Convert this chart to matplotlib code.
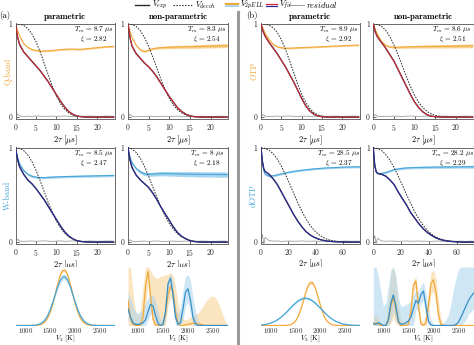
import numpy as np
import matplotlib
matplotlib.use("Agg")
import matplotlib.pyplot as plt
from matplotlib.lines import Line2D

plt.rcParams['mathtext.fontset'] = 'cm'
plt.rcParams['font.family'] = ['cmr10', 'DejaVu Serif']
plt.rcParams['axes.formatter.use_mathtext'] = True
plt.rcParams['axes.unicode_minus'] = False

# ---------------- data ----------------
t_a = [0, 0.5, 1, 2, 3, 4, 5, 6, 7, 8, 9, 10, 11, 12, 13, 14, 15, 16, 17, 18, 19, 20, 21, 22, 23, 24]
t_b = [0, 1, 2, 3, 6, 9, 12, 15, 18, 21, 24, 27, 30, 33, 36, 39, 42, 45, 48, 51, 54, 57, 60, 63, 66, 69, 72]

# Q-band parametric
decoh_q_par = [1.0, 1.0, 0.998, 0.984, 0.951, 0.894, 0.81, 0.704, 0.58, 0.454, 0.333, 0.228, 0.144, 0.084, 0.045, 0.022, 0.01, 0.004, 0.001, 0, 0, 0, 0, 0, 0, 0]
fit_q_par = [1.0, 0.86, 0.78, 0.70, 0.65, 0.60, 0.55, 0.50, 0.44, 0.38, 0.31, 0.24, 0.17, 0.11, 0.06, 0.03, 0.012, 0.005, 0.002, 0, 0, 0, 0, 0, 0, 0]
ell_q_par = [1.0, 0.93, 0.87, 0.79, 0.75, 0.725, 0.715, 0.71, 0.71, 0.712, 0.715, 0.72, 0.724, 0.728, 0.73, 0.73, 0.728, 0.728, 0.732, 0.737, 0.742, 0.746, 0.75, 0.754, 0.757, 0.76]
err_q_par = 0.008
res_q_par = [0.0, 0.035, 0.012, 0.006, 0.01, 0.008, 0.012, 0.01, 0.007, 0.009, 0.011, 0.008, 0.01, 0.012, 0.009, 0.007, 0.008, 0.01, 0.009, 0.011, 0.01, 0.008, 0.009, 0.011, 0.01, 0.009]

# Q-band non-parametric
decoh_q_np = [1.0, 1.0, 0.995, 0.973, 0.927, 0.855, 0.759, 0.645, 0.523, 0.402, 0.293, 0.201, 0.129, 0.078, 0.044, 0.023, 0.011, 0.005, 0.002, 0.001, 0, 0, 0, 0, 0, 0]
fit_q_np = [1.0, 0.85, 0.76, 0.68, 0.63, 0.58, 0.54, 0.49, 0.43, 0.36, 0.29, 0.22, 0.16, 0.10, 0.06, 0.03, 0.013, 0.005, 0.002, 0, 0, 0, 0, 0, 0, 0]
ell_q_np = [1.0, 0.92, 0.85, 0.77, 0.72, 0.705, 0.72, 0.735, 0.742, 0.746, 0.748, 0.75, 0.752, 0.754, 0.755, 0.755, 0.756, 0.757, 0.758, 0.76, 0.762, 0.763, 0.764, 0.765, 0.766, 0.767]
err_q_np = [0, 0.004, 0.006, 0.008, 0.01, 0.01, 0.01, 0.011, 0.012, 0.013, 0.014, 0.015, 0.015, 0.016, 0.016, 0.017, 0.017, 0.018, 0.018, 0.019, 0.019, 0.02, 0.02, 0.02, 0.021, 0.021]
res_q_np = [0.0, 0.03, 0.01, 0.004, 0.008, 0.006, 0.01, 0.009, 0.006, 0.008, 0.01, 0.007, 0.009, 0.011, 0.008, 0.006, 0.007, 0.009, 0.008, 0.01, 0.009, 0.007, 0.008, 0.01, 0.009, 0.008]

# W-band parametric
decoh_w_par = [1.0, 1.0, 0.995, 0.972, 0.926, 0.856, 0.764, 0.655, 0.539, 0.423, 0.316, 0.224, 0.151, 0.096, 0.058, 0.032, 0.017, 0.009, 0.004, 0.002, 0.001, 0, 0, 0, 0, 0]
fit_w_par = [1.0, 0.88, 0.80, 0.72, 0.66, 0.62, 0.57, 0.51, 0.45, 0.38, 0.31, 0.24, 0.17, 0.11, 0.065, 0.035, 0.015, 0.006, 0.002, 0, 0, 0, 0, 0, 0, 0]
ell_w_par = [1.0, 0.90, 0.83, 0.76, 0.72, 0.70, 0.69, 0.685, 0.685, 0.688, 0.69, 0.692, 0.694, 0.696, 0.697, 0.698, 0.699, 0.70, 0.701, 0.702, 0.703, 0.704, 0.705, 0.706, 0.707, 0.708]
err_w_par = 0.012
res_w_par = [0.0, 0.03, 0.012, 0.008, 0.01, 0.012, 0.009, 0.011, 0.013, 0.01, 0.008, 0.011, 0.012, 0.009, 0.01, 0.012, 0.011, 0.009, 0.01, 0.012, 0.011, 0.009, 0.01, 0.011, 0.012, 0.01]

# W-band non-parametric
decoh_w_np = [1.0, 0.997, 0.989, 0.952, 0.889, 0.802, 0.698, 0.586, 0.474, 0.368, 0.274, 0.197, 0.135, 0.089, 0.056, 0.034, 0.02, 0.011, 0.006, 0.003, 0.001, 0.001, 0, 0, 0, 0]
fit_w_np = [1.0, 0.87, 0.79, 0.71, 0.66, 0.62, 0.58, 0.52, 0.45, 0.37, 0.30, 0.23, 0.16, 0.10, 0.06, 0.035, 0.015, 0.006, 0.002, 0, 0, 0, 0, 0, 0, 0]
ell_w_np = [1.0, 0.90, 0.84, 0.78, 0.745, 0.725, 0.72, 0.722, 0.725, 0.727, 0.727, 0.726, 0.725, 0.724, 0.723, 0.722, 0.722, 0.721, 0.72, 0.72, 0.719, 0.719, 0.718, 0.718, 0.718, 0.717]
err_w_np = [0, 0.006, 0.01, 0.014, 0.017, 0.019, 0.02, 0.021, 0.022, 0.023, 0.024, 0.025, 0.025, 0.026, 0.026, 0.027, 0.027, 0.027, 0.028, 0.028, 0.028, 0.028, 0.029, 0.029, 0.029, 0.029]
res_w_np = [0.0, 0.025, 0.01, 0.006, 0.009, 0.011, 0.008, 0.01, 0.012, 0.009, 0.007, 0.01, 0.011, 0.008, 0.009, 0.011, 0.01, 0.008, 0.009, 0.011, 0.01, 0.008, 0.009, 0.01, 0.011, 0.009]

# OTP parametric
decoh_otp_par = [1.0, 1.0, 0.998, 0.987, 0.959, 0.908, 0.831, 0.729, 0.609, 0.481, 0.356, 0.245, 0.156, 0.091, 0.049, 0.023, 0.01, 0.004, 0.001, 0, 0, 0, 0, 0, 0, 0]
fit_otp_par = [1.0, 0.92, 0.87, 0.80, 0.74, 0.68, 0.61, 0.54, 0.46, 0.38, 0.29, 0.20, 0.12, 0.065, 0.03, 0.012, 0.004, 0.001, 0, 0, 0, 0, 0, 0, 0, 0]
ell_otp_par = [1.0, 0.95, 0.90, 0.83, 0.78, 0.755, 0.745, 0.74, 0.74, 0.742, 0.744, 0.746, 0.748, 0.75, 0.752, 0.754, 0.756, 0.758, 0.76, 0.762, 0.764, 0.766, 0.768, 0.77, 0.772, 0.774]
err_otp_par = 0.008
res_otp_par = [0.0, 0.03, 0.01, 0.005, 0.009, 0.011, 0.008, 0.01, 0.012, 0.009, 0.007, 0.01, 0.011, 0.008, 0.009, 0.011, 0.01, 0.008, 0.009, 0.011, 0.01, 0.008, 0.009, 0.01, 0.011, 0.009]

# OTP non-parametric
decoh_otp_np = [1.0, 1.0, 0.996, 0.975, 0.931, 0.864, 0.774, 0.667, 0.551, 0.434, 0.326, 0.232, 0.156, 0.1, 0.06, 0.034, 0.018, 0.009, 0.004, 0.002, 0.001, 0, 0, 0, 0, 0]
fit_otp_np = [1.0, 0.91, 0.86, 0.80, 0.74, 0.67, 0.60, 0.51, 0.42, 0.33, 0.24, 0.16, 0.10, 0.055, 0.025, 0.01, 0.004, 0.001, 0, 0, 0, 0, 0, 0, 0, 0]
ell_otp_np = [1.0, 0.94, 0.89, 0.81, 0.77, 0.755, 0.75, 0.75, 0.752, 0.754, 0.755, 0.756, 0.757, 0.757, 0.758, 0.758, 0.759, 0.76, 0.76, 0.761, 0.762, 0.762, 0.763, 0.764, 0.764, 0.765]
err_otp_np = [0, 0.004, 0.006, 0.008, 0.009, 0.01, 0.011, 0.012, 0.013, 0.014, 0.014, 0.015, 0.015, 0.016, 0.016, 0.017, 0.017, 0.017, 0.018, 0.018, 0.018, 0.019, 0.019, 0.019, 0.02, 0.02]
res_otp_np = [0.0, 0.028, 0.009, 0.006, 0.01, 0.008, 0.011, 0.009, 0.007, 0.01, 0.012, 0.009, 0.008, 0.01, 0.011, 0.009, 0.008, 0.01, 0.011, 0.009, 0.01, 0.008, 0.009, 0.011, 0.01, 0.009]

# dOTP parametric
decoh_dotp_par = [1.0, 1.0, 0.999, 0.995, 0.975, 0.937, 0.879, 0.804, 0.714, 0.616, 0.514, 0.415, 0.323, 0.243, 0.176, 0.122, 0.082, 0.052, 0.032, 0.019, 0.011, 0.006, 0.003, 0.001, 0.001, 0, 0]
fit_dotp_par = [1.0, 0.86, 0.78, 0.75, 0.72, 0.67, 0.61, 0.53, 0.45, 0.37, 0.29, 0.22, 0.16, 0.11, 0.075, 0.05, 0.032, 0.02, 0.012, 0.007, 0.004, 0.002, 0.001, 0, 0, 0, 0]
ell_dotp_par = [1.0, 0.85, 0.76, 0.72, 0.70, 0.705, 0.715, 0.725, 0.735, 0.745, 0.752, 0.758, 0.764, 0.769, 0.774, 0.778, 0.782, 0.785, 0.788, 0.79, 0.792, 0.794, 0.796, 0.797, 0.798, 0.799, 0.80]
err_dotp_par = 0.01
res_dotp_par = [0.0, 0.08, -0.02, 0.05, 0.015, 0.01, 0.012, 0.008, 0.01, 0.011, 0.009, 0.01, 0.012, 0.009, 0.01, 0.011, 0.008, 0.01, 0.009, 0.011, 0.01, 0.008, 0.01, 0.011, 0.009, 0.01, 0.01]

# dOTP non-parametric
decoh_dotp_np = [1.0, 1.0, 0.998, 0.994, 0.972, 0.929, 0.868, 0.79, 0.699, 0.601, 0.501, 0.405, 0.316, 0.239, 0.174, 0.122, 0.083, 0.054, 0.034, 0.021, 0.012, 0.007, 0.004, 0.002, 0.001, 0, 0]
fit_dotp_np = [1.0, 0.82, 0.75, 0.73, 0.72, 0.70, 0.66, 0.61, 0.53, 0.46, 0.39, 0.31, 0.25, 0.19, 0.14, 0.10, 0.07, 0.045, 0.028, 0.017, 0.01, 0.005, 0.003, 0.001, 0, 0, 0]
ell_dotp_np = [1.0, 0.82, 0.75, 0.73, 0.73, 0.74, 0.755, 0.77, 0.778, 0.784, 0.788, 0.79, 0.792, 0.793, 0.794, 0.795, 0.796, 0.797, 0.797, 0.798, 0.798, 0.799, 0.799, 0.8, 0.8, 0.8, 0.8]
err_dotp_np = [0, 0.005, 0.007, 0.008, 0.009, 0.01, 0.01, 0.011, 0.011, 0.012, 0.012, 0.012, 0.012, 0.013, 0.013, 0.013, 0.013, 0.013, 0.014, 0.014, 0.014, 0.014, 0.014, 0.014, 0.015, 0.015, 0.015]
res_dotp_np = [0.0, 0.07, -0.015, 0.04, 0.012, 0.009, 0.011, 0.01, 0.008, 0.01, 0.012, 0.009, 0.01, 0.011, 0.009, 0.01, 0.008, 0.011, 0.01, 0.009, 0.01, 0.011, 0.009, 0.01, 0.008, 0.01, 0.009]

# ---- V3 distributions ----
v_grid = [800, 850, 900, 950, 1000, 1050, 1100, 1150, 1200, 1250, 1300, 1350, 1400, 1450, 1500, 1550, 1600, 1650, 1700, 1750,
          1800, 1850, 1900, 1950, 2000, 2050, 2100, 2150, 2200, 2250, 2300, 2350, 2400, 2450, 2500, 2550, 2600, 2650, 2700, 2750, 2800]

p_q_par = [0, 0, 0, 0, 0, 0, 0.0002, 0.0007, 0.002, 0.006, 0.015, 0.034, 0.071, 0.135, 0.237, 0.378, 0.551, 0.733, 0.889, 0.984,
           0.993, 0.914, 0.768, 0.588, 0.411, 0.262, 0.152, 0.081, 0.039, 0.017, 0.007, 0.003, 0.001, 0, 0, 0, 0, 0, 0, 0, 0]
rel_q_par = 0.03
p_w_par = [0, 0, 0, 0, 0, 0, 0.001, 0.003, 0.006, 0.015, 0.03, 0.059, 0.106, 0.179, 0.28, 0.406, 0.548, 0.687, 0.802, 0.868,
           0.875, 0.819, 0.713, 0.577, 0.434, 0.303, 0.197, 0.119, 0.067, 0.035, 0.017, 0.008, 0.003, 0.001, 0, 0, 0, 0, 0, 0, 0]
rel_w_par = 0.06

p_q_np = [0.45, 0.12, 0.02, 0.0, 0.0, 0.01, 0.15, 0.7, 0.97, 0.55, 0.12, 0.01, 0.0, 0.0, 0.02, 0.2, 0.55, 0.7, 0.62, 0.25,
          0.04, 0.0, 0.0, 0.01, 0.02, 0.03, 0.04, 0.04, 0.03, 0.02, 0.01, 0, 0, 0, 0, 0, 0, 0, 0, 0, 0]
q_np_hi = [1.05, 1.05, 0.6, 0.25, 0.15, 0.3, 0.7, 1.05, 1.05, 1.0, 0.9, 0.85, 0.85, 0.88, 0.9, 0.9, 0.92, 0.95, 0.9, 0.7,
           0.4, 0.2, 0.12, 0.1, 0.12, 0.15, 0.18, 0.2, 0.22, 0.28, 0.35, 0.42, 0.48, 0.52, 0.53, 0.5, 0.42, 0.3, 0.18, 0.06, 0.0]
q_np_lo = [0, 0, 0, 0, 0, 0, 0, 0.35, 0.75, 0.25, 0, 0, 0, 0, 0, 0, 0.35, 0.5, 0.4, 0.1,
           0, 0, 0, 0, 0, 0, 0, 0, 0, 0, 0, 0, 0, 0, 0, 0, 0, 0, 0, 0, 0]
p_w_np = [0.3, 0.15, 0.05, 0.02, 0.02, 0.03, 0.05, 0.1, 0.25, 0.38, 0.35, 0.18, 0.04, 0.0, 0.02, 0.25, 0.75, 0.85, 0.55, 0.15,
          0.02, 0.05, 0.3, 0.6, 0.66, 0.45, 0.15, 0.03, 0.0, 0, 0, 0, 0, 0, 0, 0, 0, 0, 0, 0, 0]
w_np_hi = [0.6, 0.5, 0.35, 0.25, 0.22, 0.25, 0.3, 0.4, 0.5, 0.55, 0.55, 0.45, 0.25, 0.1, 0.15, 0.4, 0.85, 0.95, 0.75, 0.35,
           0.2, 0.35, 0.65, 0.88, 0.92, 0.8, 0.5, 0.25, 0.1, 0.04, 0.0, 0, 0, 0, 0, 0, 0, 0, 0, 0, 0]
w_np_lo = [0.1, 0.05, 0, 0, 0, 0, 0, 0, 0.1, 0.2, 0.2, 0.05, 0, 0, 0, 0.1, 0.55, 0.7, 0.35, 0,
           0, 0, 0.1, 0.35, 0.42, 0.2, 0, 0, 0, 0, 0, 0, 0, 0, 0, 0, 0, 0, 0, 0, 0]

p_otp_par = [0, 0, 0, 0, 0, 0, 0, 0, 0, 0.001, 0.002, 0.006, 0.015, 0.037, 0.08, 0.154, 0.266, 0.41, 0.566, 0.70,
             0.773, 0.765, 0.677, 0.536, 0.38, 0.241, 0.137, 0.069, 0.032, 0.013, 0.005, 0.002, 0, 0, 0, 0, 0, 0, 0, 0, 0]
rel_otp_par = 0.04
p_dotp_par = [0.009, 0.014, 0.022, 0.031, 0.045, 0.062, 0.084, 0.112, 0.144, 0.182, 0.224, 0.269, 0.316, 0.361, 0.403, 0.439, 0.467, 0.484, 0.49, 0.484,
              0.467, 0.439, 0.403, 0.361, 0.316, 0.269, 0.224, 0.182, 0.144, 0.112, 0.084, 0.062, 0.045, 0.031, 0.022, 0.014, 0.009, 0.006, 0.004, 0.002, 0.001]
rel_dotp_par = 0.05

p_otp_np = [0.02, 0.05, 0.03, 0.0, 0.0, 0.0, 0.08, 0.35, 0.5, 0.3, 0.06, 0.0, 0.0, 0.0, 0.02, 0.25, 0.72, 0.8, 0.35, 0.03,
            0.0, 0.05, 0.35, 0.75, 0.82, 0.6, 0.2, 0.02, 0, 0, 0, 0, 0, 0, 0, 0, 0, 0, 0, 0, 0]
otp_np_hi = [0.15, 0.2, 0.15, 0.05, 0.03, 0.1, 0.5, 0.95, 1.05, 0.85, 0.35, 0.12, 0.05, 0.05, 0.1, 0.4, 0.82, 0.88, 0.5, 0.12,
             0.05, 0.2, 0.6, 0.95, 1.0, 0.85, 0.45, 0.12, 0.03, 0, 0, 0, 0, 0, 0, 0, 0, 0, 0, 0, 0]
otp_np_lo = [0, 0, 0, 0, 0, 0, 0, 0.05, 0.15, 0.05, 0, 0, 0, 0, 0, 0.15, 0.6, 0.7, 0.25, 0,
             0, 0, 0.15, 0.55, 0.62, 0.38, 0.05, 0, 0, 0, 0, 0, 0, 0, 0, 0, 0, 0, 0, 0, 0]
p_dotp_np = [0.04, 0.02, 0.05, 0.03, 0.0, 0.0, 0.1, 0.4, 0.55, 0.35, 0.08, 0.02, 0.03, 0.05, 0.08, 0.15, 0.3, 0.45, 0.4, 0.55,
             0.62, 0.35, 0.08, 0.01, 0.0, 0, 0, 0, 0, 0, 0, 0, 0.0, 0.02, 0.06, 0.15, 0.25, 0.35, 0.45, 0.52, 0.58]
dotp_np_hi = [1.05, 1.05, 0.9, 0.6, 0.35, 0.4, 0.7, 1.0, 1.05, 0.9, 0.5, 0.35, 0.35, 0.38, 0.4, 0.45, 0.55, 0.65, 0.6, 0.72,
              0.78, 0.6, 0.3, 0.1, 0.03, 0.02, 0.02, 0.03, 0.05, 0.1, 0.2, 0.4, 0.65, 0.85, 1.0, 1.05, 1.05, 1.05, 1.05, 1.05, 1.05]
dotp_np_lo = [0, 0, 0, 0, 0, 0, 0, 0.1, 0.25, 0.1, 0, 0, 0, 0, 0, 0, 0, 0.3, 0.25, 0.4,
              0.45, 0.15, 0, 0, 0, 0, 0, 0, 0, 0, 0, 0, 0, 0, 0, 0, 0.05, 0.1, 0.2, 0.25, 0.3]

# ---------------- style ----------------
ORANGE = '#F2A93B'
ORANGE_BAND = '#F8D08E'
BLUE = '#45A6DA'
BLUE_BAND = '#A9D4EE'
RED = '#D0283A'
NAVY = '#2A2A9E'
DARK = '#2b2b2b'
GRAY = '#8c8c8c'
SPINE = '#6a6a6a'
FS = 5.5

W, H = 474, 345
fig = plt.figure(figsize=(W / 100, H / 100), dpi=100)


def ax_px(x0, x1, y0, y1):
    return fig.add_axes([x0 / W, 1 - y1 / H, (x1 - x0) / W, (y1 - y0) / H])


def time_panel(cols, rows, t, fit, fitcol, decoh, ell, err, ellcol, bandcol, res,
               tm, xi, xticks, xmax, title=None):
    ax = ax_px(cols[0], cols[1], rows[0], rows[1])
    t = np.asarray(t, float)
    ell = np.asarray(ell, float)
    err = np.broadcast_to(np.asarray(err, float), ell.shape)
    ax.fill_between(t, ell - err, ell + err, color=bandcol, lw=0, zorder=1)
    ax.plot(t, ell, color=ellcol, lw=0.8, zorder=2)
    ax.plot(t, res, color=GRAY, lw=0.5, zorder=2)
    ax.plot(t, decoh, color=DARK, lw=0.7, ls=(0, (1.6, 1.3)), zorder=3)
    ax.plot(t, fit, color='#3a3a3a', lw=1.0, zorder=3)
    ax.plot(t, fit, color=fitcol, lw=0.75, zorder=4)
    ax.set_xlim(0, xmax)
    ax.set_ylim(-0.015, 1.005)
    ax.set_xticks(xticks)
    ax.set_yticks([0, 1])
    ax.set_yticklabels(['0', '1'])
    ax.tick_params(direction='in', length=2, width=0.5, labelsize=FS, pad=2.5, colors=DARK)
    for s in ax.spines.values():
        s.set_color(SPINE)
        s.set_linewidth(0.7)
    ax.set_xlabel(r'$2\tau\ [\mu s]$', fontsize=FS + 0.5, labelpad=0.5)
    ax.text(0.79, 0.935, r'$T_m\, =\, %s\ \mu s$' % tm, transform=ax.transAxes,
            ha='center', va='center', fontsize=5.2)
    ax.text(0.79, 0.835, r'$\xi\, =\, %s$' % xi, transform=ax.transAxes,
            ha='center', va='center', fontsize=5.2)
    if title:
        ax.set_title(title, fontsize=6.3, family=['cmb10', 'DejaVu Serif'], pad=3.5)
    return ax


def dist_panel(cols, v, series):
    ax = ax_px(cols[0], cols[1], RD[0], RD[1])
    v = np.asarray(v, float)
    for line, lo, hi, col, band in series:
        ax.fill_between(v, lo, hi, color=band, alpha=0.55, lw=0, zorder=1)
    for line, lo, hi, col, band in series:
        ax.plot(v, line, color=col, lw=0.9, zorder=3)
    ax.set_xlim(800, 2800)
    ax.set_ylim(0, 1.05)
    ax.set_xticks([1000, 1500, 2000, 2500])
    ax.set_yticks([])
    for s in ax.spines.values():
        s.set_visible(False)
    ax.tick_params(axis='x', length=0, labelsize=5, pad=0.5, colors=DARK)
    ax.set_xlabel(r'$V_3$ [K]', fontsize=5.2)
    ax.xaxis.set_label_coords(0.5, -(338.8 - RD[1]) / (RD[1] - RD[0]))
    ax.xaxis.label.set_va('center')
    return ax


A1, A2 = (15.5, 114.5), (128, 228)
B1, B2 = (261, 359.5), (373.3, 473.5)
R1, R2 = (23.5, 118.5), (147.5, 243.5)
RD = (267, 325.5)
xt_a = [0, 5, 10, 15, 20]
xt_b = [0, 20, 40, 60]

time_panel(A1, R1, t_a, fit_q_par, RED, decoh_q_par, ell_q_par, err_q_par, ORANGE, ORANGE_BAND, res_q_par,
           '8.7', '2.82', xt_a, 24.2, title='parametric')
time_panel(A2, R1, t_a, fit_q_np, RED, decoh_q_np, ell_q_np, err_q_np, ORANGE, ORANGE_BAND, res_q_np,
           '8.3', '2.54', xt_a, 24.2, title='non-parametric')
time_panel(A1, R2, t_a, fit_w_par, NAVY, decoh_w_par, ell_w_par, err_w_par, BLUE, BLUE_BAND, res_w_par,
           '8.5', '2.47', xt_a, 24.2)
time_panel(A2, R2, t_a, fit_w_np, NAVY, decoh_w_np, ell_w_np, err_w_np, BLUE, BLUE_BAND, res_w_np,
           '8', '2.18', xt_a, 24.2)
time_panel(B1, R1, t_a, fit_otp_par, RED, decoh_otp_par, ell_otp_par, err_otp_par, ORANGE, ORANGE_BAND, res_otp_par,
           '8.9', '2.92', xt_a, 24.2, title='parametric')
time_panel(B2, R1, t_a, fit_otp_np, RED, decoh_otp_np, ell_otp_np, err_otp_np, ORANGE, ORANGE_BAND, res_otp_np,
           '8.6', '2.51', xt_a, 24.2, title='non-parametric')
time_panel(B1, R2, t_b, fit_dotp_par, NAVY, decoh_dotp_par, ell_dotp_par, err_dotp_par, BLUE, BLUE_BAND, res_dotp_par,
           '28.5', '2.37', xt_b, 72)
time_panel(B2, R2, t_b, fit_dotp_np, NAVY, decoh_dotp_np, ell_dotp_np, err_dotp_np, BLUE, BLUE_BAND, res_dotp_np,
           '28.2', '2.29', xt_b, 72)


def rel_band(p, rel):
    p = np.asarray(p, float)
    return p * (1 - rel), p * (1 + rel)


lq, hq = rel_band(p_q_par, rel_q_par)
lw_, hw_ = rel_band(p_w_par, rel_w_par)
dist_panel(A1, v_grid, [(p_q_par, lq, hq, ORANGE, ORANGE_BAND), (p_w_par, lw_, hw_, BLUE, BLUE_BAND)])
dist_panel(A2, v_grid, [(p_q_np, q_np_lo, q_np_hi, ORANGE, ORANGE_BAND), (p_w_np, w_np_lo, w_np_hi, '#3590C8', BLUE_BAND)])
lo_, ho_ = rel_band(p_otp_par, rel_otp_par)
ld_, hd_ = rel_band(p_dotp_par, rel_dotp_par)
dist_panel(B1, v_grid, [(p_otp_par, lo_, ho_, ORANGE, ORANGE_BAND), (p_dotp_par, ld_, hd_, BLUE, BLUE_BAND)])
dist_panel(B2, v_grid, [(p_otp_np, otp_np_lo, otp_np_hi, ORANGE, ORANGE_BAND), (p_dotp_np, dotp_np_lo, dotp_np_hi, '#3590C8', BLUE_BAND)])


# ---------------- figure decorations ----------------
def fig_line(x0, x1, y0, y1, **kw):
    fig.add_artist(Line2D([x0 / W, x1 / W], [1 - y0 / H, 1 - y1 / H], transform=fig.transFigure, **kw))


def fig_text(x, y, s, **kw):
    fig.text(x / W, 1 - y / H, s, **kw)


# separator
fig_line(237.5, 237.5, 12, 346, color='#9a9a9a', lw=2.2)

# panel labels
fig_text(-1, 15, '(a)', fontsize=6.3, va='center', ha='left')
fig_text(246, 15, '(b)', fontsize=6.3, va='center', ha='left')

# row labels
fig_text(8, (R1[0] + R1[1]) / 2, 'Q-band', rotation=90, color=ORANGE, fontsize=6, ha='center', va='center')
fig_text(8, (R2[0] + R2[1]) / 2, 'W-band', rotation=90, color=BLUE, fontsize=6, ha='center', va='center')
fig_text(254, (R1[0] + R1[1]) / 2, 'OTP', rotation=90, color=ORANGE, fontsize=6, ha='center', va='center')
fig_text(254, (R2[0] + R2[1]) / 2, 'dOTP', rotation=90, color=BLUE, fontsize=6, ha='center', va='center')

# legend
LY = 5
fig_line(135, 149, LY, LY, color=DARK, lw=1.0)
fig_text(152, LY, r'$V_{exp}$', fontsize=6, va='center', ha='left')
fig_line(173, 192, LY, LY, color=DARK, lw=0.8, ls=(0, (1.3, 1.3)))
fig_text(195, LY, r'$V_{decoh}$', fontsize=6, va='center', ha='left')
fig_line(226, 238, LY - 1, LY - 1, color=ORANGE, lw=1.6)
fig_line(226, 238, LY + 1.2, LY + 1.2, color=BLUE_BAND, lw=1.4)
fig_text(240, LY, r'$V_{2pELL}$', fontsize=6, va='center', ha='left')
fig_line(266, 277, LY - 0.8, LY - 0.8, color=RED, lw=0.9)
fig_line(266, 277, LY + 1.0, LY + 1.0, color=NAVY, lw=0.9)
fig_text(279, LY, r'$V_{fit}$', fontsize=6, va='center', ha='left')
fig_line(289, 304, LY, LY, color=GRAY, lw=0.6)
fig_text(306, LY, r'$residual$', fontsize=6, va='center', ha='left')

fig.savefig('out.png', dpi=100)
